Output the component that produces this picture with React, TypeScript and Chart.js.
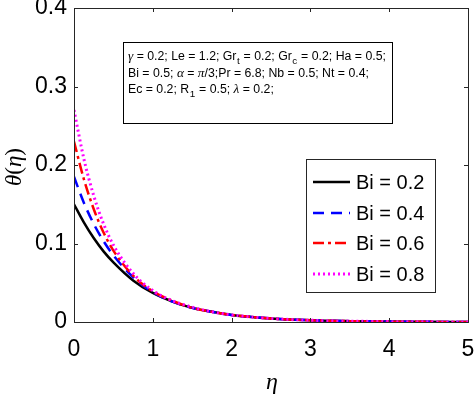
import React, { useEffect, useRef } from "react";
import { Chart, registerables } from "chart.js";

Chart.register(...registerables);

const eta = [0, 0.125, 0.25, 0.375, 0.5, 0.75, 1, 1.25, 1.5, 1.75, 2, 2.5, 3, 3.5, 4, 4.5, 5];
const bi02 = [0.150, 0.127, 0.107, 0.090, 0.076, 0.053, 0.037, 0.026, 0.018, 0.013, 0.009, 0.0045, 0.0022, 0.0011, 0.0005, 0.0002, 0.0];
const bi04 = [0.185, 0.152, 0.125, 0.103, 0.085, 0.057, 0.038, 0.026, 0.018, 0.013, 0.009, 0.0045, 0.0022, 0.0011, 0.0005, 0.0002, 0.0];
const bi06 = [0.230, 0.182, 0.144, 0.114, 0.091, 0.059, 0.039, 0.027, 0.018, 0.013, 0.009, 0.0045, 0.0022, 0.0011, 0.0005, 0.0002, 0.0];
const bi08 = [0.270, 0.208, 0.161, 0.125, 0.098, 0.062, 0.040, 0.027, 0.019, 0.013, 0.009, 0.0045, 0.0022, 0.0011, 0.0005, 0.0002, 0.0];
const seriesLabels = ["Bi = 0.2", "Bi = 0.4", "Bi = 0.6", "Bi = 0.8"];
const xTicks = [0, 1, 2, 3, 4, 5];
const yTicks = [0, 0.1, 0.2, 0.3, 0.4];

const colors = ["#000000", "#0000ff", "#ff0000", "#ff00ff"];
const dashes: number[][] = [[], [11, 7], [11, 4, 3, 4], [2, 3]];
const widths = [2.5, 2.5, 2.5, 3];

type Seg = { t: string; sub?: boolean; greek?: boolean };
const infoLines: Seg[][] = [
  [{ t: "γ", greek: true }, { t: " = 0.2; Le = 1.2; Gr" }, { t: "t", sub: true }, { t: " = 0.2; Gr" }, { t: "c", sub: true }, { t: " = 0.2; Ha = 0.5;" }],
  [{ t: "Bi = 0.5; " }, { t: "α", greek: true }, { t: " = " }, { t: "π", greek: true }, { t: "/3;Pr = 6.8; Nb = 0.5; Nt = 0.4;" }],
  [{ t: "Ec = 0.2; R" }, { t: "1", sub: true }, { t: " = 0.5; " }, { t: "λ", greek: true }, { t: " = 0.2;" }],
];

const SANS = "Arial, 'Liberation Sans', Helvetica, sans-serif";
const SERIF = "'Liberation Serif', 'DejaVu Serif', serif";

const decor = {
  id: "decor",
  afterDraw(chart: any) {
    const ctx = chart.ctx as CanvasRenderingContext2D;
    const ca = chart.chartArea;
    const xs = chart.scales.x;
    const ys = chart.scales.y;
    ctx.save();
    // box
    ctx.strokeStyle = "#262626";
    ctx.lineWidth = 1;
    ctx.setLineDash([]);
    ctx.strokeRect(Math.round(ca.left) + 0.5, Math.round(ca.top) + 0.5, Math.round(ca.right - ca.left), Math.round(ca.bottom - ca.top));
    // inward ticks
    const tl = 4;
    ctx.beginPath();
    xTicks.forEach((v) => {
      const px = Math.round(xs.getPixelForValue(v)) + 0.5;
      ctx.moveTo(px, ca.bottom); ctx.lineTo(px, ca.bottom - tl);
      ctx.moveTo(px, ca.top); ctx.lineTo(px, ca.top + tl);
    });
    yTicks.forEach((v) => {
      const py = Math.round(ys.getPixelForValue(v)) + 0.5;
      ctx.moveTo(ca.left, py); ctx.lineTo(ca.left + tl, py);
      ctx.moveTo(ca.right, py); ctx.lineTo(ca.right - tl, py);
    });
    ctx.stroke();

    // info box
    const bx = 123, by = 42, bw = 269, bh = 81;
    ctx.fillStyle = "#ffffff";
    ctx.fillRect(bx, by, bw, bh);
    ctx.strokeStyle = "#000";
    ctx.strokeRect(bx + 0.5, by + 0.5, bw, bh);
    const fs = 12.3;
    const baselines = [60, 77, 93];
    infoLines.forEach((line, i) => {
      let x = 128;
      const yb = baselines[i];
      line.forEach((s) => {
        ctx.textBaseline = "alphabetic";
        ctx.textAlign = "left";
        ctx.fillStyle = "#000";
        if (s.greek) {
          ctx.font = `italic ${fs + 1}px ${SERIF}`;
          ctx.fillText(s.t, x, yb);
        } else if (s.sub) {
          ctx.font = `${fs * 0.8}px ${SANS}`;
          ctx.fillText(s.t, x + 0.5, yb + 4);
        } else {
          ctx.font = `${fs}px ${SANS}`;
          ctx.fillText(s.t, x, yb);
        }
        x += ctx.measureText(s.t).width + (s.sub ? 1 : 0);
      });
    });

    // legend
    const lx = 306, ly = 159, lw = 129, lh = 133;
    ctx.fillStyle = "#ffffff";
    ctx.fillRect(lx, ly, lw, lh);
    ctx.strokeStyle = "#262626";
    ctx.lineWidth = 1;
    ctx.strokeRect(lx + 0.5, ly + 0.5, lw, lh);
    const rows = [182, 213, 243, 274];
    rows.forEach((ry, i) => {
      ctx.beginPath();
      ctx.strokeStyle = colors[i];
      ctx.lineWidth = widths[i];
      ctx.setLineDash(dashes[i]);
      ctx.moveTo(313, ry);
      ctx.lineTo(350, ry);
      ctx.stroke();
      ctx.setLineDash([]);
      ctx.fillStyle = "#000";
      ctx.font = `20px ${SANS}`;
      ctx.textAlign = "left";
      ctx.textBaseline = "middle";
      ctx.fillText(seriesLabels[i], 356, ry + 1);
    });

    // axis titles
    ctx.fillStyle = "#000";
    ctx.textBaseline = "middle";
    ctx.save();
    ctx.translate(15, 167);
    ctx.rotate(-Math.PI / 2);
    const parts = [
      { t: "θ", f: `italic 23px ${SERIF}` },
      { t: "(", f: `23px ${SERIF}` },
      { t: "η", f: `italic 23px ${SERIF}` },
      { t: ")", f: `23px ${SERIF}` },
    ];
    let tw = 0;
    parts.forEach((p) => { ctx.font = p.f; tw += ctx.measureText(p.t).width; });
    let cx = -tw / 2;
    ctx.textAlign = "left";
    parts.forEach((p) => { ctx.font = p.f; ctx.fillText(p.t, cx, 0); cx += ctx.measureText(p.t).width; });
    ctx.restore();
    ctx.font = `italic 24px ${SERIF}`;
    ctx.textAlign = "center";
    ctx.textBaseline = "alphabetic";
    ctx.fillText("η", 272, 389);
    ctx.restore();
  },
};

export default function App() {
  const ref = useRef<HTMLCanvasElement | null>(null);
  useEffect(() => {
    document.body.style.margin = "0";
    const datasets = [bi02, bi04, bi06, bi08].map((arr, i) => ({
      label: seriesLabels[i],
      data: arr.map((v, j) => ({ x: eta[j], y: v })),
      borderColor: colors[i],
      backgroundColor: colors[i],
      borderWidth: widths[i],
      borderDash: dashes[i],
      pointRadius: 0,
      cubicInterpolationMode: "monotone" as const,
      fill: false,
    }));
    const chart = new Chart(ref.current!, {
      type: "line",
      data: { datasets: datasets.slice().reverse() as any },
      options: {
        animation: false,
        responsive: false,
        devicePixelRatio: 1,
        layout: { padding: { top: 8, right: 6, left: 0, bottom: 0 } },
        plugins: { legend: { display: false }, tooltip: { enabled: false } },
        scales: {
          x: {
            type: "linear",
            min: 0,
            max: 5,
            afterBuildTicks: (s: any) => { s.ticks = xTicks.map((v) => ({ value: v })); },
            ticks: { color: "#000", font: { family: SANS, size: 23 }, padding: 14, maxRotation: 0, callback: (v: any) => String(v) },
            grid: { display: false, drawTicks: false },
            border: { display: false },
            afterFit: (s: any) => { s.height = 73; s.paddingLeft = 0; s.paddingRight = 0; },
          },
          y: {
            type: "linear",
            min: 0,
            max: 0.4,
            afterBuildTicks: (s: any) => { s.ticks = yTicks.map((v) => ({ value: v })); },
            ticks: { color: "#000", font: { family: SANS, size: 23 }, padding: 7, callback: (v: any) => String(Math.round(v * 10) / 10) },
            grid: { display: false, drawTicks: false },
            border: { display: false },
            afterFit: (s: any) => { s.width = 74; s.paddingTop = 0; s.paddingBottom = 0; },
          },
        },
      },
      plugins: [decor],
    });
    return () => chart.destroy();
  }, []);
  return (
    <div style={{ position: "absolute", left: 0, top: 0, width: 474, height: 395, background: "#fff" }}>
      <canvas ref={ref} width={474} height={395} />
    </div>
  );
}
